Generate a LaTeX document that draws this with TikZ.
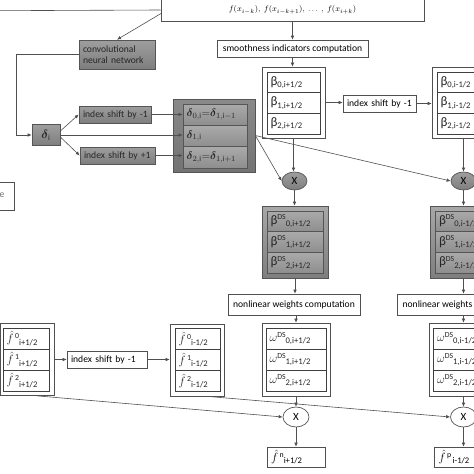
\documentclass[tikz,border=0pt]{standalone}
\usepackage{amsmath}
\usepackage{fontspec}
\setmainfont{Carlito}
\usetikzlibrary{arrows.meta,shapes.geometric,calc}
\definecolor{ln}{HTML}{505050}
\definecolor{gd}{HTML}{555555}
\definecolor{gtop}{HTML}{9E9E9E}
\definecolor{gbot}{HTML}{7E7E7E}
\definecolor{ctop}{HTML}{AAAAAA}
\definecolor{cbot}{HTML}{8E8E8E}
\definecolor{otop}{HTML}{8A8A8A}
\definecolor{obot}{HTML}{737373}
\newcommand\sbs[1]{\raisebox{-0.5ex}{\fontsize{8.6}{9}\selectfont #1}}
\newcommand\sps[1]{\raisebox{0.95ex}{\fontsize{7.8}{8}\selectfont #1}}
\newcommand\bet[2][]{{\fontsize{13}{14}\selectfont β}\sps{#1}\sbs{#2}}
\newcommand\omg[1]{{\fontsize{12}{13}\selectfont$\omega$}\sps{DS}\sbs{#1}}
\newcommand\fht[2]{{\fontsize{12}{13}\selectfont$\hat{f}$}\,\sps{#1}\sbs{#2}}
\tikzset{
  conn/.style={draw=ln, line width=0.6pt, -{Latex[length=4pt,width=3.6pt]}},
  plain/.style={draw=ln, line width=0.6pt},
  wbox/.style={draw=ln, line width=0.7pt, fill=white, inner sep=0pt, text=black},
  gbox/.style={draw=gd, line width=0.7pt, top color=gtop, bottom color=gbot, inner sep=0pt, text=black!85},
  obox/.style={draw=gd, line width=0.7pt, top color=otop, bottom color=obot, inner sep=0pt},
  gcell/.style={draw=gd, line width=0.7pt, top color=ctop, bottom color=cbot, inner sep=0pt, inner xsep=3.5pt, align=left, text=black!85},
  wcell/.style={draw=black!75, line width=0.8pt, fill=white, inner sep=0pt, inner xsep=3.5pt, align=left, text=black!85},
  lbox/.style={align=left, inner xsep=4pt},
  xell/.style={ellipse, draw=gd, line width=0.7pt, inner sep=0pt, font=\fontsize{11}{12}\selectfont}
}
\begin{document}
\begin{tikzpicture}[x=1pt,y=-1pt,font=\fontsize{9.6}{10.8}\selectfont]
\useasboundingbox (0,0) rectangle (474,474);
\clip (0,0) rectangle (474,474);

% top box
\node[wbox, minimum width=263pt, minimum height=22pt] (top) at (292.5,10) {\fontsize{8.3}{10}\selectfont$f(x_{i-k}),\ f(x_{i-k+1}),\ \dots\ ,\ f(x_{i+k})$};
\coordinate (topl) at (-5,10.7);
\draw[plain] (top.west) -- (topl);

% left-edge box
\node[wbox, minimum width=30pt, minimum height=28pt] (lbx) at (-1,196) {};
\node[text=black!55, inner sep=0pt, anchor=east] (lbt) at (4.5,195) {e};

% CNN
\node[gbox, lbox, text width=68pt, minimum height=29pt] (cnn) at (117,54.5) {convolutional\\neural network};
\coordinate (tcn) at (161,13.5);
\draw[conn] (tcn) -- (cnn.north);

% delta_i
\node[gbox, minimum width=28pt, minimum height=21pt] (di) at (46,135) {\fontsize{12}{13}\selectfont$\boldsymbol{\delta}_{\mathrm{i}}$};
\coordinate (cnnl) at (16,54.5);
\draw[conn] (cnn.west) -- (cnnl) |- (di.west);

% index shift boxes (delta)
\node[gbox, lbox, text width=64pt, minimum height=17pt] (shm) at (115,114.5) {\mbox{index shift by -1}};
\node[gbox, lbox, text width=67pt, minimum height=17pt] (shp) at (117.5,155.5) {\mbox{index shift by +1}};
\draw[conn] ([yshift=4pt]di.east) -- (shm.west);
\draw[conn] ([yshift=-2pt]di.east) -- (shp.west);

% delta block
\node[obox, minimum width=82pt, minimum height=73pt] (dblk) at (214,135.5) {};
\node[gcell, text width=57pt, minimum height=21.3pt] (dc0) at (215,114.7) {\fontsize{11}{12}\selectfont$\boldsymbol{\delta}_{0,\mathrm{i}}{=}\boldsymbol{\delta}_{1,\mathrm{i}-1}$};
\node[gcell, text width=57pt, minimum height=21.3pt] (dc1) at (215,136) {\fontsize{11}{12}\selectfont$\boldsymbol{\delta}_{1,\mathrm{i}}$};
\node[gcell, text width=57pt, minimum height=21.3pt] (dc2) at (215,157.3) {\fontsize{11}{12}\selectfont$\boldsymbol{\delta}_{2,\mathrm{i}}{=}\boldsymbol{\delta}_{1,\mathrm{i}+1}$};
\draw[conn] (shm.east) -- (shm.east -| dc0.west);
\draw[conn] (di.east) -- (di.east -| dc1.west);
\draw[conn] (shp.east) -- (shp.east -| dc2.west);

% smoothness indicators
\node[wbox, minimum width=151pt, minimum height=17pt] (smo) at (292.5,48.5) {smoothness indicators computation};
\draw[conn] (top.south -| smo.north) -- (smo.north);

% beta box left
\node[wbox, minimum width=63pt, minimum height=71pt] (bet) at (293.5,102.5) {};
\node[wcell, text width=46pt, minimum height=20.7pt] (b0) at (293.5,82.3) {\bet{0,i+1/2}};
\node[wcell, text width=46pt, minimum height=20.7pt] (b1) at (293.5,103) {\bet{1,i+1/2}};
\node[wcell, text width=46pt, minimum height=20.7pt] (b2) at (293.5,123.7) {\bet{2,i+1/2}};
\draw[conn] (smo.south) -- (smo.south |- bet.north);

% index shift beta
\node[wbox, lbox, text width=65pt, minimum height=17pt] (shb) at (379.5,103.5) {\mbox{index shift by -1}};
\draw[conn] (bet.east) -- (bet.east -| shb.west);

% beta box right
\node[wbox, minimum width=63pt, minimum height=71pt] (rbet) at (463.5,102.5) {};
\node[wcell, text width=46pt, minimum height=20.7pt] (rb0) at (463.5,82.3) {\bet{0,i-1/2}};
\node[wcell, text width=46pt, minimum height=20.7pt] (rb1) at (463.5,103) {\bet{1,i-1/2}};
\node[wcell, text width=46pt, minimum height=20.7pt] (rb2) at (463.5,123.7) {\bet{2,i-1/2}};
\draw[conn] (shb.east) -- (shb.east -| rbet.west);

% multiply ellipses (gray)
\node[xell, top color=gtop, bottom color=gbot, minimum width=25pt, minimum height=18pt] (x1) at (294.5,181) {X};
\node[xell, top color=gtop, bottom color=gbot, minimum width=25pt, minimum height=18pt] (x2) at (463.5,181) {X};
\draw[conn] (bet.south) -- (bet.south |- x1.north);
\draw[conn] (rbet.south) -- (rbet.south |- x2.north);
\draw[conn] (dblk.east) -- (x1.west);
\draw[conn] (dblk.east) -- (x2.west);

% beta DS boxes
\node[obox, top color=gtop!90, bottom color=gbot, minimum width=66pt, minimum height=72pt] (ds) at (295,242) {};
\node[gcell, text width=49pt, minimum height=20.7pt] (ds0) at (295,221.3) {\bet[DS]{0,i+1/2}};
\node[gcell, text width=49pt, minimum height=20.7pt] (ds1) at (295,242) {\bet[DS]{1,i+1/2}};
\node[gcell, text width=49pt, minimum height=20.7pt] (ds2) at (295,262.7) {\bet[DS]{2,i+1/2}};
\node[obox, top color=gtop!90, bottom color=gbot, minimum width=66pt, minimum height=72pt] (rds) at (463.5,242) {};
\node[gcell, text width=49pt, minimum height=20.7pt] (rds0) at (463.5,221.3) {\bet[DS]{0,i-1/2}};
\node[gcell, text width=49pt, minimum height=20.7pt] (rds1) at (463.5,242) {\bet[DS]{1,i-1/2}};
\node[gcell, text width=49pt, minimum height=20.7pt] (rds2) at (463.5,262.7) {\bet[DS]{2,i-1/2}};
\draw[conn] (x1.south) -- (x1.south |- ds.north);
\draw[conn] (x2.south) -- (x2.south |- rds.north);

% nonlinear weights
\node[wbox, minimum width=132pt, minimum height=21pt] (nlw) at (294,304.5) {nonlinear weights computation};
\node[wbox, minimum width=132pt, minimum height=21pt] (rnlw) at (463.5,304.5) {nonlinear weights computation};
\draw[conn] (ds.south) -- (ds.south |- nlw.north);
\draw[conn] (rds.south) -- (rds.south |- rnlw.north);

% omega boxes
\node[wbox, minimum width=68pt, minimum height=73pt] (om) at (296,359.5) {};
\node[wcell, text width=53pt, minimum height=21pt] (om0) at (296,338.5) {\omg{0,i+1/2}};
\node[wcell, text width=53pt, minimum height=21pt] (om1) at (296,359.5) {\omg{1,i+1/2}};
\node[wcell, text width=53pt, minimum height=21pt] (om2) at (296,380.5) {\omg{2,i+1/2}};
\node[wbox, minimum width=68pt, minimum height=73pt] (rom) at (463.5,359.5) {};
\node[wcell, text width=53pt, minimum height=21pt] (rom0) at (463.5,338.5) {\omg{0,i-1/2}};
\node[wcell, text width=53pt, minimum height=21pt] (rom1) at (463.5,359.5) {\omg{1,i-1/2}};
\node[wcell, text width=53pt, minimum height=21pt] (rom2) at (463.5,380.5) {\omg{2,i-1/2}};
\draw[conn] (nlw.south -| om.north) -- (om.north);
\draw[conn] (rnlw.south) -- (rnlw.south |- rom.north);

% multiply ellipses (white)
\node[xell, fill=white, minimum width=26pt, minimum height=20pt] (x3) at (296,417) {X};
\node[xell, fill=white, minimum width=26pt, minimum height=20pt] (x4) at (463.5,417) {X};
\draw[conn] (om.south) -- (x3.north);
\draw[conn] (rom.south) -- (x4.north);

% outputs
\node[wbox, lbox, text width=50pt, minimum height=20pt] (fn) at (296,457) {\fht{n}{i+1/2}};
\node[wbox, lbox, text width=50pt, minimum height=20pt] (fp) at (463.5,457) {\fht{p}{\,i-1/2}};
\draw[conn] (x3.south) -- (fn.north);
\draw[conn] (x4.south) -- (fp.north);

% f-hat boxes
\node[wbox, minimum width=54pt, minimum height=72pt] (f1) at (27,359.5) {};
\node[wcell, text width=39pt, minimum height=21pt] (f10) at (26,338.5) {\fht{0}{i+1/2}};
\node[wcell, text width=39pt, minimum height=21pt] (f11) at (26,359.5) {\fht{1}{i+1/2}};
\node[wcell, text width=39pt, minimum height=21pt] (f12) at (26,380.5) {\fht{2}{i+1/2}};
\node[wbox, lbox, text width=72pt, minimum height=17pt] (shf) at (107,359.5) {\mbox{index shift by -1}};
\node[wbox, minimum width=54pt, minimum height=72pt] (f2) at (197,360) {};
\node[wcell, text width=38pt, minimum height=21pt] (f20) at (197.5,339) {\fht{0}{i-1/2}};
\node[wcell, text width=38pt, minimum height=21pt] (f21) at (197.5,360) {\fht{1}{i-1/2}};
\node[wcell, text width=38pt, minimum height=21pt] (f22) at (197.5,381) {\fht{2}{i-1/2}};
\draw[conn] (f1.east) -- (shf.west);
\draw[conn] (shf.east) -- (shf.east -| f2.west);
\draw[conn] ([xshift=10pt]f1.south) -- (x3.west);
\draw[conn] ([xshift=10pt]f2.south) -- (x4.west);
\end{tikzpicture}
\end{document}
